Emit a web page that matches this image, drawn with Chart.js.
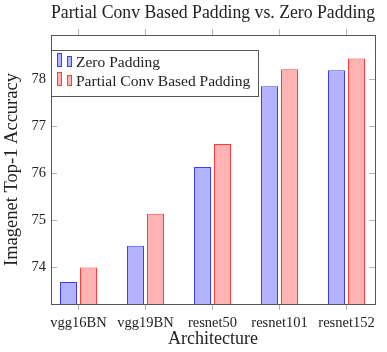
<!DOCTYPE html>
<html>
<head>
<meta charset="utf-8">
<script src="https://cdn.jsdelivr.net/npm/chart.js@4/dist/chart.umd.min.js"></script>
<style>
  body { margin: 0; background: #fff; }
  #wrap { width: 387px; height: 352px; }
</style>
</head>
<body>
<div id="wrap"><canvas id="c" width="387" height="352"></canvas></div>
<script>
const archs = ['vgg16BN', 'vgg19BN', 'resnet50', 'resnet101', 'resnet152'];
const zeroPad = [73.68, 74.45, 76.13, 77.85, 78.19];
const partialPad = [73.99, 75.13, 76.62, 78.21, 78.44];
const yTicks = [74, 75, 76, 77, 78];

const serif = '"Liberation Serif", "Times New Roman", serif';
const frameColor = '#555555';
const tickColor = '#b4b4b4';

// x range picked so a category is exactly 67px wide and bar edges land on whole pixels
const xMin = -27.5 / 67;
const xMax = xMin + 324 / 67;

// frame, inner ticks and the pgfplots-style legend
const decor = {
  id: 'decor',
  afterDatasetsDraw(chart) {
    const { ctx, chartArea: a, scales } = chart;
    ctx.save();
    ctx.strokeStyle = tickColor;
    ctx.lineWidth = 1;
    ctx.beginPath();
    yTicks.forEach(v => {
      const y = Math.round(scales.y.getPixelForValue(v)) + 0.5;
      ctx.moveTo(a.left, y); ctx.lineTo(a.left + 6, y);
      ctx.moveTo(a.right, y); ctx.lineTo(a.right - 6, y);
    });
    archs.forEach((c, i) => {
      const x = Math.floor(scales.x.getPixelForValue(i)) + 0.5;
      ctx.moveTo(x, a.top); ctx.lineTo(x, a.top - 6);
    });
    ctx.stroke();

    ctx.strokeStyle = frameColor;
    ctx.strokeRect(Math.round(a.left) + 0.5, Math.round(a.top) + 0.5,
      Math.round(a.right - a.left), Math.round(a.bottom - a.top));

    // legend
    ctx.font = '15.5px ' + serif;
    const ds = chart.data.datasets;
    const tx = a.left + 25;
    let w = 0;
    ds.forEach(d => { w = Math.max(w, ctx.measureText(d.label).width); });
    const lx = Math.round(a.left) + 0.5, ly = 50.5;
    const lw = Math.round(tx + w + 8 - a.left), lh = 46;
    ctx.fillStyle = '#fff';
    ctx.fillRect(lx, ly, lw, lh);
    ctx.strokeStyle = frameColor;
    ctx.strokeRect(lx, ly, lw, lh);
    ds.forEach((d, i) => {
      const base = 67 + i * 19;
      ctx.fillStyle = d.backgroundColor;
      ctx.strokeStyle = d.borderColor;
      ctx.fillRect(a.left + 6, base - 14, 5, 14);
      ctx.strokeRect(a.left + 6.5, base - 13.5, 4, 13);
      ctx.fillRect(a.left + 16, base - 11, 5, 11);
      ctx.strokeRect(a.left + 16.5, base - 10.5, 4, 10);
      ctx.fillStyle = '#222';
      ctx.textBaseline = 'alphabetic';
      ctx.fillText(d.label, tx, base);
    });
    ctx.restore();
  }
};

new Chart(document.getElementById('c'), {
  type: 'bar',
  data: {
    datasets: [
      {
        label: 'Zero Padding',
        data: zeroPad.map((v, i) => ({ x: i, y: v })),
        backgroundColor: 'rgb(179,179,255)',
        borderColor: 'rgb(60,60,255)',
        borderWidth: 1,
        categoryPercentage: 40 / 67,
        barPercentage: 0.85
      },
      {
        label: 'Partial Conv Based Padding',
        data: partialPad.map((v, i) => ({ x: i, y: v })),
        backgroundColor: 'rgb(255,179,179)',
        borderColor: 'rgb(255,60,60)',
        borderWidth: 1,
        categoryPercentage: 40 / 67,
        barPercentage: 0.85
      }
    ]
  },
  options: {
    responsive: false,
    animation: false,
    layout: { padding: { left: 0, right: 12, top: 0, bottom: 0 } },
    plugins: {
      legend: { display: false },
      tooltip: { enabled: false },
      title: {
        display: true,
        fullSize: false,
        text: 'Partial Conv Based Padding vs. Zero Padding',
        color: '#222',
        font: { family: serif, size: 18, weight: 'normal', lineHeight: 1.2 },
        padding: { top: 2, bottom: 11.4 }
      }
    },
    scales: {
      x: {
        type: 'linear',
        min: xMin,
        max: xMax,
        offset: false,
        afterFit: s => { s.height = 48; },
        afterBuildTicks: s => { s.ticks = archs.map((c, i) => ({ value: i })); },
        ticks: {
          callback: v => archs[v],
          color: '#222',
          font: { family: serif, size: 14.5 },
          padding: 4,
          maxRotation: 0,
          autoSkip: false
        },
        grid: { offset: false, drawOnChartArea: false, drawTicks: true, tickLength: 6, color: tickColor },
        border: { display: false },
        title: {
          display: true,
          text: 'Architecture',
          color: '#222',
          font: { family: serif, size: 18, lineHeight: 1.2 },
          padding: { top: 0, bottom: 1.5 }
        }
      },
      y: {
        min: 73.21,
        max: 78.94,
        afterFit: s => { s.width = 51; },
        afterBuildTicks: s => { s.ticks = yTicks.map(v => ({ value: v })); },
        ticks: {
          color: '#222',
          font: { family: serif, size: 14.5 },
          padding: 5
        },
        grid: { drawOnChartArea: false, drawTicks: false },
        border: { display: false },
        title: {
          display: true,
          text: 'Imagenet Top-1 Accuracy',
          color: '#222',
          font: { family: serif, size: 18.5, lineHeight: 1.2 },
          padding: { top: 1.5, bottom: 0 }
        }
      }
    }
  },
  plugins: [decor]
});
</script>
</body>
</html>
